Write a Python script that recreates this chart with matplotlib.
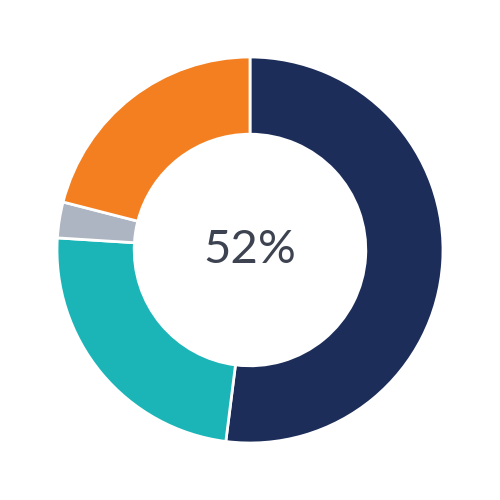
import matplotlib
matplotlib.use("Agg")
import matplotlib.pyplot as plt

labels = ["Navy", "Teal", "Gray", "Orange"]
values = [52, 24, 3, 21]
colors = ["#1c2d5a", "#1bb5b8", "#adb5c2", "#f47f20"]
center_text = "52%"

fig = plt.figure(figsize=(5, 5), dpi=100)
ax = fig.add_axes([0, 0, 1, 1])
ax.pie(values, colors=colors, startangle=90, counterclock=False, radius=1.0,
       wedgeprops=dict(width=0.40, edgecolor="white", linewidth=2))
lim = 250 / 193
ax.set_xlim(-lim, lim)
ax.set_ylim(-lim, lim)
ax.set_aspect("equal")
ax.axis("off")
ax.text(0, 0, center_text, ha="center", va="center", fontsize=34,
        color="#3d4350", family=["Lato", "DejaVu Sans"])
fig.savefig("out.png", dpi=100)
